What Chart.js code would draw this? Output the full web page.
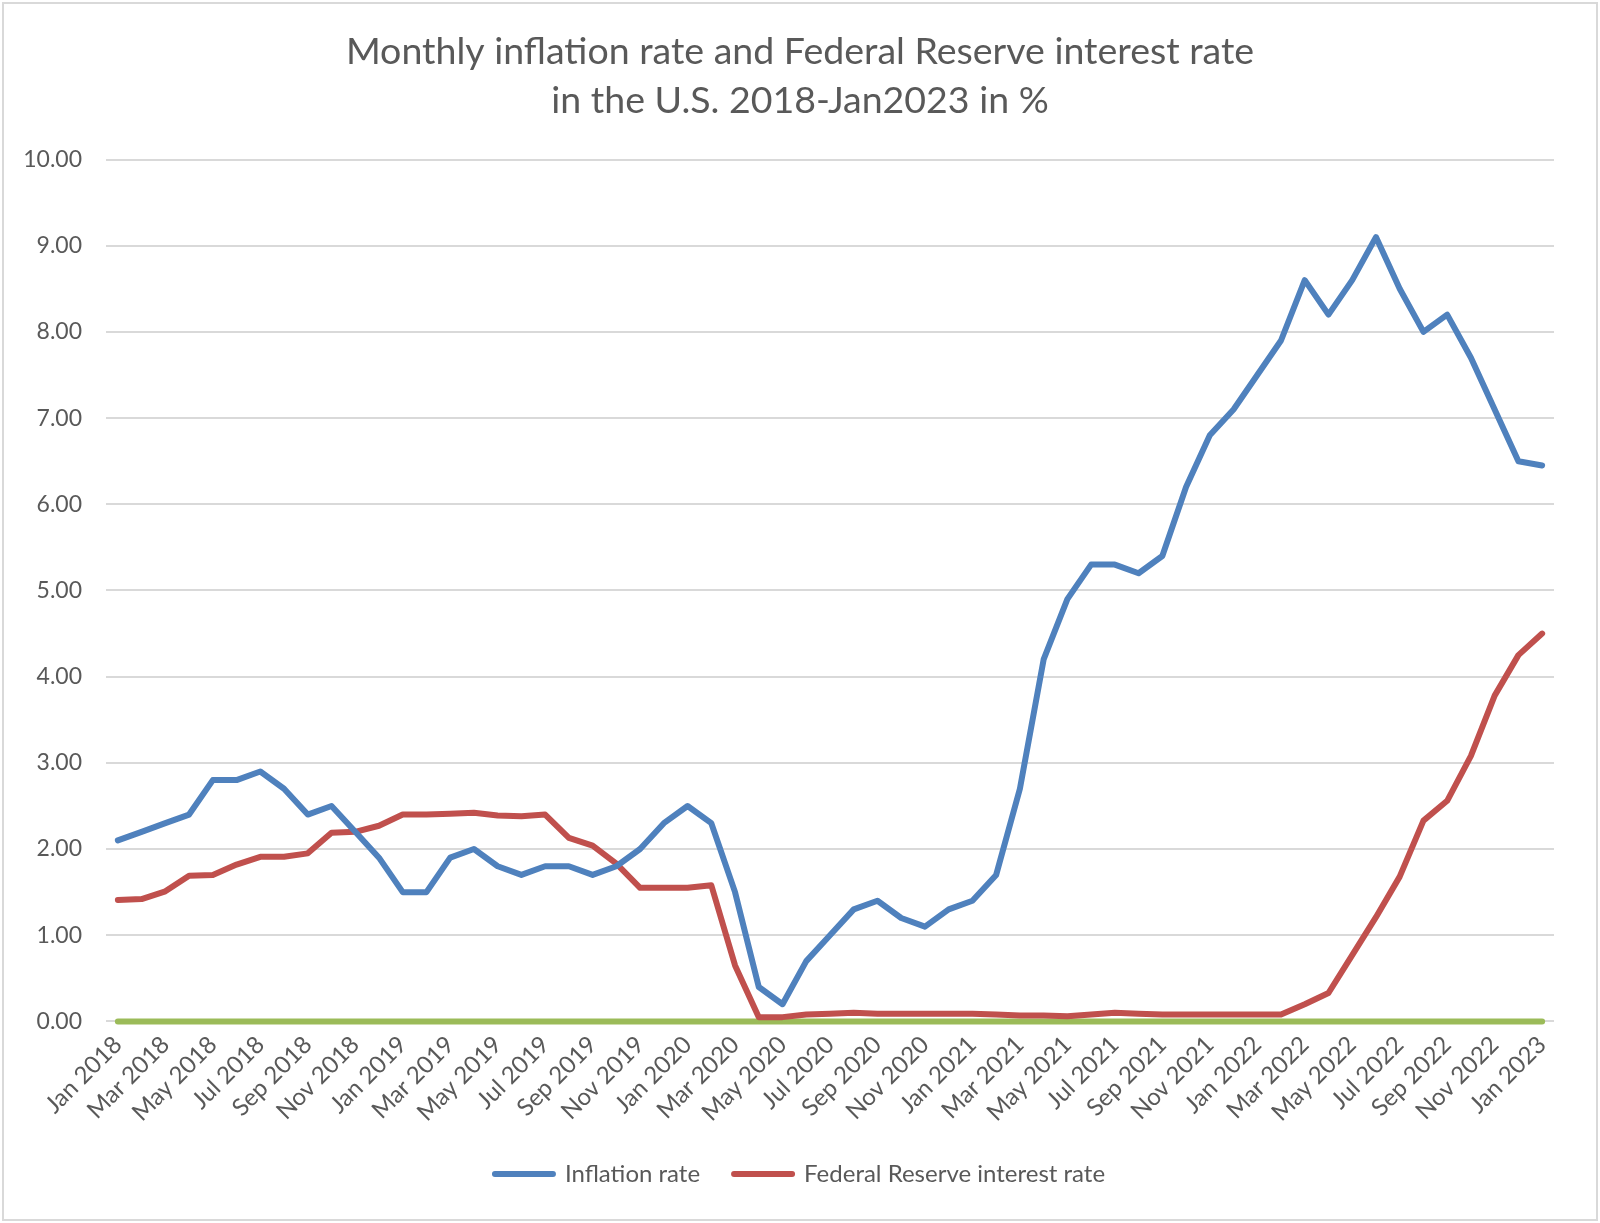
<!DOCTYPE html>
<html>
<head>
<meta charset="utf-8">
<script src="https://cdn.jsdelivr.net/npm/chart.js@4.4.1/dist/chart.umd.min.js"></script>
<style>
  body { margin: 0; background: #fff; }
  #wrap { position: relative; width: 1600px; height: 1223px; }
  #frame {
    position: absolute; left: 2px; top: 2px; width: 1592px; height: 1215px;
    border: 2px solid #d9d9d9; pointer-events: none;
  }
  canvas { position: absolute; left: 0; top: 0; }
</style>
</head>
<body>
<div id="wrap">
  <canvas id="rateChart"></canvas>
  <div id="frame"></div>
</div>
<script>
const months = [
  "Jan 2018", "Feb 2018", "Mar 2018", "Apr 2018", "May 2018", "Jun 2018",
  "Jul 2018", "Aug 2018", "Sep 2018", "Oct 2018", "Nov 2018", "Dec 2018",
  "Jan 2019", "Feb 2019", "Mar 2019", "Apr 2019", "May 2019", "Jun 2019",
  "Jul 2019", "Aug 2019", "Sep 2019", "Oct 2019", "Nov 2019", "Dec 2019",
  "Jan 2020", "Feb 2020", "Mar 2020", "Apr 2020", "May 2020", "Jun 2020",
  "Jul 2020", "Aug 2020", "Sep 2020", "Oct 2020", "Nov 2020", "Dec 2020",
  "Jan 2021", "Feb 2021", "Mar 2021", "Apr 2021", "May 2021", "Jun 2021",
  "Jul 2021", "Aug 2021", "Sep 2021", "Oct 2021", "Nov 2021", "Dec 2021",
  "Jan 2022", "Feb 2022", "Mar 2022", "Apr 2022", "May 2022", "Jun 2022",
  "Jul 2022", "Aug 2022", "Sep 2022", "Oct 2022", "Nov 2022", "Dec 2022",
  "Jan 2023",
];

const inflationRate = [
  2.1, 2.2, 2.3, 2.4, 2.8, 2.8, 2.9, 2.7, 2.4, 2.5, 2.2, 1.9,
  1.5, 1.5, 1.9, 2.0, 1.8, 1.7, 1.8, 1.8, 1.7, 1.8, 2.0, 2.3,
  2.5, 2.3, 1.5, 0.4, 0.2, 0.7, 1.0, 1.3, 1.4, 1.2, 1.1, 1.3,
  1.4, 1.7, 2.7, 4.2, 4.9, 5.3, 5.3, 5.2, 5.4, 6.2, 6.8, 7.1,
  7.5, 7.9, 8.6, 8.2, 8.6, 9.1, 8.5, 8.0, 8.2, 7.7, 7.1, 6.5,
  6.45,
];

const fedRate = [
  1.41, 1.42, 1.51, 1.69, 1.70, 1.82, 1.91, 1.91, 1.95, 2.19, 2.20, 2.27,
  2.40, 2.40, 2.41, 2.42, 2.39, 2.38, 2.40, 2.13, 2.04, 1.83, 1.55, 1.55,
  1.55, 1.58, 0.65, 0.05, 0.05, 0.08, 0.09, 0.10, 0.09, 0.09, 0.09, 0.09,
  0.09, 0.08, 0.07, 0.07, 0.06, 0.08, 0.10, 0.09, 0.08, 0.08, 0.08, 0.08,
  0.08, 0.08, 0.20, 0.33, 0.77, 1.21, 1.68, 2.33, 2.56, 3.08, 3.78, 4.25,
  4.50,
];

// flat green reference line at zero (not in the legend)
const zeroLine = [
  0, 0, 0, 0, 0, 0, 0, 0, 0, 0, 0, 0,
  0, 0, 0, 0, 0, 0, 0, 0, 0, 0, 0, 0,
  0, 0, 0, 0, 0, 0, 0, 0, 0, 0, 0, 0,
  0, 0, 0, 0, 0, 0, 0, 0, 0, 0, 0, 0,
  0, 0, 0, 0, 0, 0, 0, 0, 0, 0, 0, 0,
  0,
];

const titleLines = [
  "Monthly inflation rate and Federal Reserve interest rate",
  "in the U.S. 2018-Jan2023 in %",
];

const textColor = "#595959";
const fontFamily = "Lato, 'Open Sans', sans-serif";

function lineSet(label, data, color) {
  return {
    label: label,
    data: data,
    borderColor: color,
    backgroundColor: color,
    borderWidth: 6,
    borderCapStyle: "round",
    borderJoinStyle: "round",
    pointRadius: 0,
    tension: 0,
    fill: false,
    clip: false,
  };
}

// title and legend are centred on the whole canvas, not between the paddings
const centreBlocks = {
  id: "centreBlocks",
  afterLayout(chart) {
    chart.legend.left += 26;
    chart.titleBlock.left += 26;
  },
};

const ctx = document.getElementById("rateChart").getContext("2d");

new Chart(ctx, {
  type: "line",
  data: {
    labels: months,
    datasets: [
      lineSet("Inflation rate", inflationRate, "#4F81BD"),
      lineSet("Federal Reserve interest rate", fedRate, "#C0504D"),
      lineSet("zero", zeroLine, "#9BBB59"),
    ],
  },
  plugins: [centreBlocks],
  options: {
    responsive: true,
    maintainAspectRatio: false,
    devicePixelRatio: 1,
    animation: false,
    layout: {
      padding: { left: 20, right: 46, top: 0, bottom: 27 },
    },
    plugins: {
      title: {
        display: true,
        text: titleLines,
        color: textColor,
        font: { family: fontFamily, size: 37.5, weight: "normal", lineHeight: 1.3 },
        padding: { top: 28, bottom: 34 },
      },
      legend: {
        position: "bottom",
        labels: {
          filter: (item) => item.datasetIndex < 2,
          boxWidth: 58,
          boxHeight: 0,
          padding: 34,
          color: textColor,
          font: { family: fontFamily, size: 24 },
        },
      },
      tooltip: { enabled: false },
    },
    scales: {
      x: {
        offset: true,
        grid: { display: false },
        border: { display: false },
        ticks: {
          autoSkip: false,
          minRotation: 45,
          maxRotation: 45,
          padding: 1,
          color: textColor,
          font: { family: fontFamily, size: 24 },
          callback: (value, index) => (index % 2 === 0 ? months[index] : ""),
        },
      },
      y: {
        min: 0,
        max: 10,
        afterFit: (scale) => {
          scale.width = 86;
        },
        grid: { color: "#d9d9d9", lineWidth: 2, drawTicks: false },
        border: { display: false },
        ticks: {
          stepSize: 1,
          padding: 24,
          color: textColor,
          font: { family: fontFamily, size: 23 },
          callback: (value) => value.toFixed(2),
        },
      },
    },
  },
});
</script>
</body>
</html>
